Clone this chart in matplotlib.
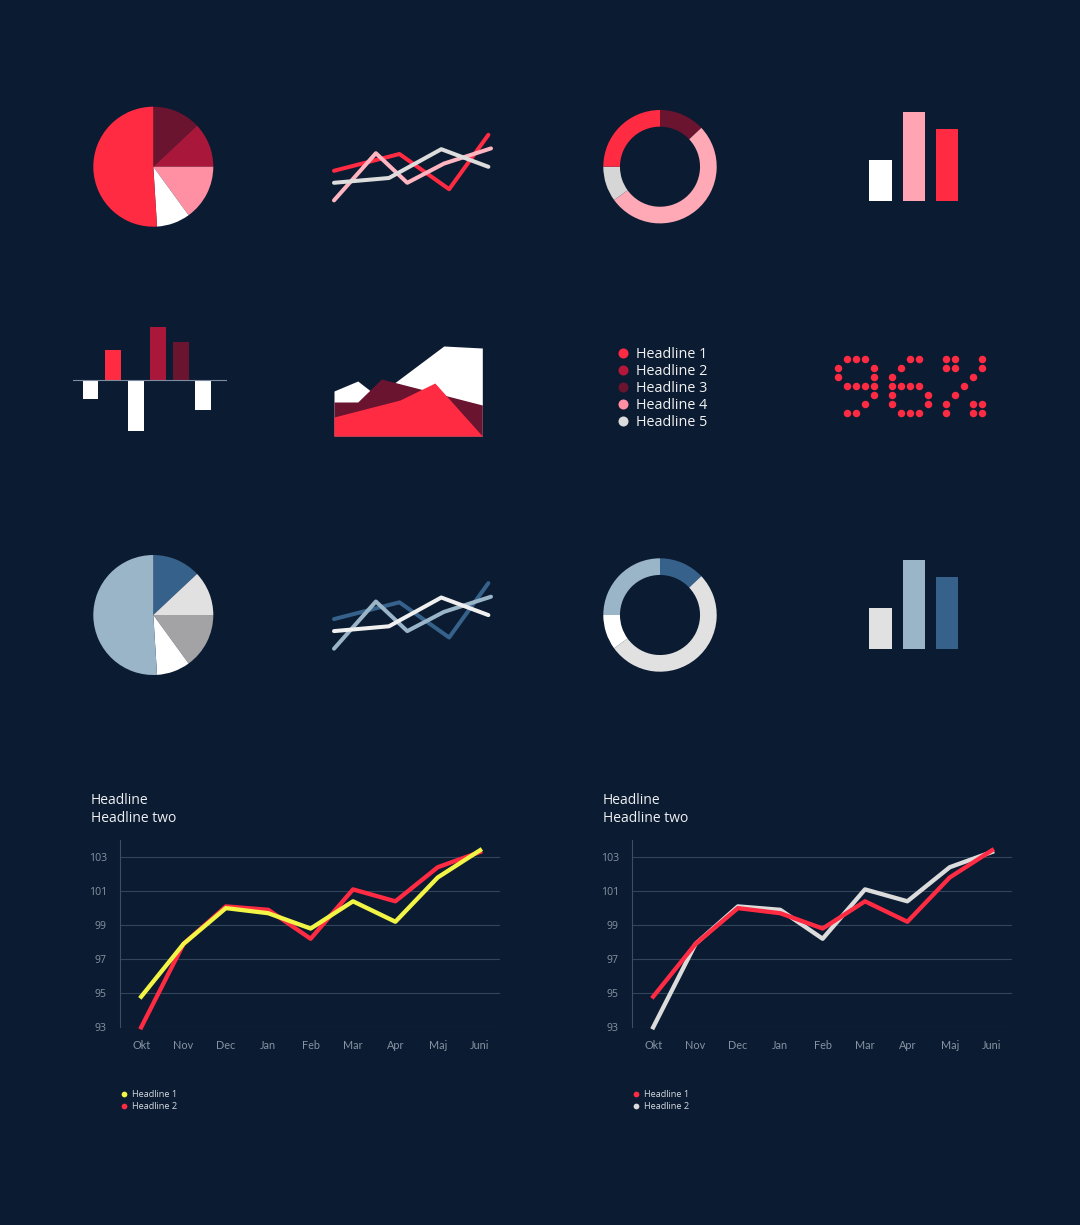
import matplotlib
matplotlib.use('Agg')
import matplotlib.pyplot as plt
import numpy as np

plt.rcParams['font.family'] = ['Open Sans', 'DejaVu Sans']

# ---- data ----
pie_values = [13, 12, 15, 9, 51]
donut_values = [13, 52, 10, 25]
bar_values = [46, 100, 81]

spark_a_x = [0, 2.5, 4.4, 5.9]
spark_a_y = [4.9, 7.0, 2.6, 9.4]
spark_b_x = [0, 1.6, 2.8, 4.2, 6.0]
spark_b_y = [1.2, 7.1, 3.4, 5.8, 7.7]
spark_c_x = [0, 2.1, 4.1, 5.9]
spark_c_y = [3.4, 4.0, 7.6, 5.4]

posneg_values = [-1.9, 3.0, -5.1, 5.3, 3.8, -3.0]

area_white_x = [0, 1.6, 2.9, 7.4, 10]
area_white_y = [4.5, 5.5, 4.0, 9.0, 8.8]
area_maroon_x = [0, 1.6, 3.2, 10]
area_maroon_y = [3.4, 3.4, 5.7, 3.1]
area_red_x = [0, 4.45, 6.8, 10]
area_red_y = [1.9, 3.6, 5.3, 0]

legend_labels = ['Headline 1', 'Headline 2', 'Headline 3', 'Headline 4', 'Headline 5']

dot_rows = [
    ".###....##..##..#",
    "#...#..#....##..#",
    "#...#.#........#.",
    ".####.####....#..",
    "....#.#...#..#...",
    "...#..#...#.#..##",
    ".##....###..#..##",
]

months = ['Okt', 'Nov', 'Dec', 'Jan', 'Feb', 'Mar', 'Apr', 'Maj', 'Juni']
series_a = [94.8, 97.9, 100.0, 99.7, 98.8, 100.4, 99.2, 101.8, 103.4]
series_b = [93.0, 97.9, 100.1, 99.9, 98.2, 101.1, 100.4, 102.4, 103.3]
y_ticks = [93, 95, 97, 99, 101, 103]

# ---- colours ----
bg = '#0b1b31'
red = '#ff2b43'
crimson = '#a9173a'
maroon = '#6a1430'
pink = '#ff8fa3'
pink_bar = '#ffa4b2'
white = '#ffffff'
lgrey = '#dcdcdc'
blue = '#35618a'
lblue = '#9ab4c8'
mgrey = '#a3a3a6'
yellow = '#f2f545'

red_pie = [maroon, crimson, pink, white, red]
blue_pie = [blue, '#e1e1e1', mgrey, white, lblue]
red_donut = [maroon, '#ffa9b6', '#d6d6d6', red]
blue_donut = [blue, '#e1e1e1', white, lblue]
red_bars = [white, pink_bar, red]
blue_bars = ['#e1e1e1', lblue, blue]
red_spark = [red, '#ffb6c1', '#dddddd']
blue_spark = [blue, lblue, '#f0f0f0']
legend_colors = [red, '#b5173a', maroon, pink, lgrey]

W, H = 1080, 1225
fig = plt.figure(figsize=(W / 100, H / 100), dpi=100, facecolor=bg)


def box(x0, y0, x1, y1):
    ax = fig.add_axes([x0 / W, 1 - y1 / H, (x1 - x0) / W, (y1 - y0) / H])
    ax.set_facecolor('none')
    return ax


def px_text(x, y, s, **kw):
    fig.text(x / W, 1 - y / H, s, **kw)


def draw_pie(y0, colors):
    ax = box(93.3, y0, 213.3, y0 + 120)
    ax.pie(pie_values, colors=colors, startangle=90, counterclock=False,
           wedgeprops=dict(linewidth=0))
    ax.set_xlim(-1, 1)
    ax.set_ylim(-1, 1)
    ax.axis('off')


def draw_spark(y0, colors):
    ax = box(334, y0, 491, y0 + 80)
    for (xs, ys), c in zip([(spark_a_x, spark_a_y), (spark_b_x, spark_b_y),
                            (spark_c_x, spark_c_y)], colors):
        ax.plot(xs, ys, color=c, lw=2.9, solid_capstyle='round', clip_on=False)
    ax.set_xlim(0, 6)
    ax.set_ylim(0, 10)
    ax.axis('off')


def draw_donut(y0, colors):
    ax = box(603.3, y0, 716.7, y0 + 113.4)
    ax.pie(donut_values, colors=colors, startangle=90, counterclock=False,
           wedgeprops=dict(width=0.294, linewidth=0))
    ax.set_xlim(-1, 1)
    ax.set_ylim(-1, 1)
    ax.axis('off')


def draw_bars(y_bottom, colors):
    ax = box(860, y_bottom - 88.7, 960, y_bottom)
    ax.bar(range(len(bar_values)), bar_values, width=0.67, color=colors)
    ax.set_xlim(-0.615, 2.384)
    ax.set_ylim(0, 100)
    ax.axis('off')


# ---- row 1 ----
draw_pie(106.7, red_pie)
draw_spark(130, red_spark)
draw_donut(110, red_donut)
draw_bars(200.7, red_bars)

# ---- row 3 ----
draw_pie(555, blue_pie)
draw_spark(578.3, blue_spark)
draw_donut(558.3, blue_donut)
draw_bars(649, blue_bars)

# ---- row 2: positive / negative bars ----
ax = box(73.3, 320, 226.7, 440)
pn_colors = [white, red, white, crimson, maroon, white]
ax.bar(range(len(posneg_values)), posneg_values, width=0.71, color=pn_colors)
ax.axhline(0, color='#7d8ca0', lw=0.8)
ax.set_xlim(-0.764, 6.05)
ax.set_ylim(-5.97, 6.03)
ax.axis('off')

# ---- row 2: area ----
ax = box(334, 336, 482.3, 436)
ax.fill_between(area_white_x, area_white_y, 0, color=white, lw=0)
ax.fill_between(area_maroon_x, area_maroon_y, 0, color=maroon, lw=0)
ax.fill_between(area_red_x, area_red_y, 0, color=red, lw=0)
ax.set_xlim(0, 10)
ax.set_ylim(0, 10)
ax.axis('off')

# ---- row 2: legend ----
ax = box(0, 0, W, H)
ax.set_xlim(0, W)
ax.set_ylim(H, 0)
ax.axis('off')
for i, (lab, c) in enumerate(zip(legend_labels, legend_colors)):
    yy = 352.7 + i * 17
    ax.scatter([622.7], [yy], s=52, color=c, lw=0)
    px_text(635.7, yy + 4.9, lab, color='#f2f2f2', fontsize=10.4, va='baseline')

# ---- row 2: dot matrix 96% ----
ax = box(833.5, 354.8, 986.5, 417.2)
cols, rows = [], []
for r, line in enumerate(dot_rows):
    for c, ch in enumerate(line):
        if ch == '#':
            cols.append(c)
            rows.append(r)
ax.scatter(cols, rows, s=29, color=red, lw=0)
ax.set_xlim(-0.5, 16.5)
ax.set_ylim(6.5, -0.5)
ax.axis('off')


# ---- bottom line charts ----
def draw_linechart(x_off, first, second, c_first, c_second, leg_colors):
    ax = box(120 + x_off, 840, 500 + x_off, 1027.3)
    x = np.arange(len(months))
    ax.plot(x, first, color=c_first, lw=3.1, clip_on=False, zorder=3)
    ax.plot(x, second, color=c_second, lw=3.1, clip_on=False, zorder=4)
    ax.set_xlim(-0.5, 8.47)
    ax.set_ylim(93, 104)
    ax.set_yticks(y_ticks)
    ax.set_yticklabels([str(t) for t in y_ticks])
    ax.set_xticks(x)
    ax.set_xticklabels([])
    # month labels on a common baseline (Lato: its J sits on the baseline)
    for i, m in enumerate(months):
        ax.text(i, -0.116, m, transform=ax.get_xaxis_transform(), ha='center',
                va='baseline', fontsize=7.8, color='#8793a3',
                family=['Lato', 'DejaVu Sans'])
    ax.grid(axis='y', color='#33455b', lw=0.8)
    ax.set_axisbelow(True)
    for s in ['top', 'right', 'bottom']:
        ax.spines[s].set_visible(False)
    ax.spines['left'].set_color('#3d4e63')
    ax.spines['left'].set_linewidth(0.8)
    ax.tick_params(axis='both', length=0, labelsize=7.6, labelcolor='#8793a3')
    ax.tick_params(axis='y', pad=9.5)

    px_text(90.7 + x_off, 804.3, 'Headline', color='#eef0f3', fontsize=10.0, va='baseline')
    px_text(90.7 + x_off, 822, 'Headline two', color='#eef0f3', fontsize=10.0, va='baseline')

    lg = box(0, 0, W, H)
    lg.set_xlim(0, W)
    lg.set_ylim(H, 0)
    lg.axis('off')
    for i, c in enumerate(leg_colors):
        yy = 1094.3 + i * 11.4
        lg.scatter([124.3 + x_off], [yy], s=17, color=c, lw=0)
        px_text(132.3 + x_off, yy + 3, legend_labels[i], color='#d5dae1',
                fontsize=6.6, va='baseline')


draw_linechart(0, series_b, series_a, red, yellow, [yellow, red])
draw_linechart(512, series_b, series_a, lgrey, red, [red, lgrey])

fig.savefig('out.png', dpi=100, facecolor=bg)
